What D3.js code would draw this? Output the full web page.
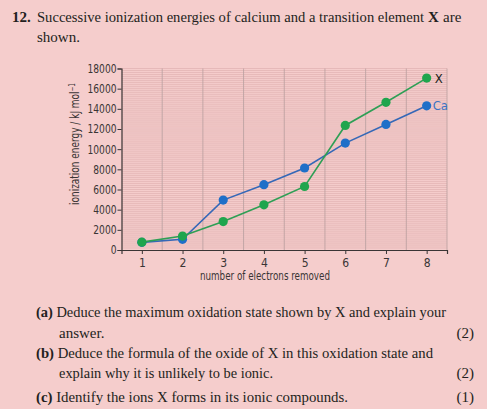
<!DOCTYPE html>
<html>
<head>
<meta charset="utf-8">
<script src="https://cdn.jsdelivr.net/npm/d3@7"></script>
<style>
  body { margin:0; background:#f5cdcc; }
  svg { display:block; }
</style>
</head>
<body>
<div id="chart"></div>
<script>
// data
var electrons = [1, 2, 3, 4, 5, 6, 7, 8];
var caEnergy = [760, 1060, 4950, 6480, 8130, 10600, 12450, 14300];
var xEnergy = [780, 1380, 2820, 4480, 6300, 12350, 14650, 17050];
var yTicks = [0, 2000, 4000, 6000, 8000, 10000, 12000, 14000, 16000, 18000];

var questionLines = [
  {x:36, y:312, parts:[["(a)",true],[" Deduce the maximum oxidation state shown by X and explain your",false]], len:410},
  {x:59, y:333, parts:[["answer.",false]], mark:"(2)"},
  {x:36, y:353, parts:[["(b)",true],[" Deduce the formula of the oxide of X in this oxidation state and",false]], len:397},
  {x:59, y:373, parts:[["explain why it is unlikely to be ionic.",false]], mark:"(2)", len:214},
  {x:36, y:397, parts:[["(c)",true],[" Identify the ions X forms in its ionic compounds.",false]], mark:"(1)", len:312}
];

(function(){
var W = 487, H = 409;
var serif = "'Liberation Serif', 'DejaVu Serif', serif";
var sans = "'Liberation Sans Narrow', 'DejaVu Sans Condensed', 'Liberation Sans', sans-serif";
var ink = "#3a3535";

var svg = d3.select("#chart").append("svg")
  .attr("width", W).attr("height", H);

svg.append("rect").attr("width", W).attr("height", H).attr("fill", "#f5cdcc");

// heading
var head = svg.append("g").style("font-family", serif).style("font-size", "15px").attr("fill", "#231f20");
head.append("text").attr("x", 12).attr("y", 22).style("font-weight", "bold").text("12.");
head.append("text").attr("x", 37).attr("y", 22)
  .attr("textLength", 387).attr("lengthAdjust", "spacingAndGlyphs")
  .style("font-size", "14.5px")
  .text("Successive ionization energies of calcium and a transition element");
head.append("text").attr("x", 428).attr("y", 22).style("font-weight", "bold").text("X");
head.append("text").attr("x", 443).attr("y", 22).text("are");
head.append("text").attr("x", 37).attr("y", 42).text("shown.");

// plot area
var pLeft = 121.5, pRight = 447, pTop = 68.5, pBottom = 250;
var x = d3.scaleLinear().domain([0.5, 8.5]).range([pLeft, pRight]);
var y = d3.scaleLinear().domain([0, 18000]).range([pBottom, pTop]);

var grid = svg.append("g");
grid.selectAll("line.h").data(d3.range(200, 18001, 200)).enter().append("line")
  .attr("class", "h")
  .attr("x1", pLeft).attr("x2", pRight)
  .attr("y1", function(d){ return y(d); })
  .attr("y2", function(d){ return y(d); })
  .attr("stroke", "#dba9a9")
  .attr("stroke-width", 0.55);
grid.selectAll("line.v").data(d3.range(1.5, 8.6, 1)).enter().append("line")
  .attr("class", "v")
  .attr("x1", function(d){ return x(d); }).attr("x2", function(d){ return x(d); })
  .attr("y1", pTop).attr("y2", pBottom)
  .attr("stroke", "#b89e9e").attr("stroke-width", 0.8);

// axes
var yAxis = svg.append("g").attr("transform", "translate(" + pLeft + ",0)")
  .call(d3.axisLeft(y).tickValues(yTicks).tickSize(4).tickPadding(1).tickFormat(d3.format("d")));
var xAxis = svg.append("g").attr("transform", "translate(0," + pBottom + ")")
  .call(d3.axisBottom(x).tickValues(electrons).tickSize(4).tickPadding(4).tickFormat(d3.format("d")));
[yAxis, xAxis].forEach(function(a){
  a.select(".domain").attr("stroke", ink).attr("stroke-width", 1.2);
  a.selectAll(".tick line").attr("stroke", ink);
  a.selectAll("text").style("font-family", sans).style("font-size", "12px").attr("fill", ink);
});
yAxis.selectAll("text").attr("textLength", function(d){ return String(d).length * 5.8; })
  .attr("lengthAdjust", "spacingAndGlyphs");

svg.append("text")
  .attr("transform", "translate(79,144) rotate(-90)")
  .attr("text-anchor", "middle")
  .attr("textLength", 122).attr("lengthAdjust", "spacingAndGlyphs")
  .style("font-family", sans).style("font-size", "12.5px").attr("fill", ink)
  .text("ionization energy / kJ mol")
  .append("tspan").attr("dy", -4.5).style("font-size", "8px").text("\u22121");

svg.append("text")
  .attr("x", 265).attr("y", 280)
  .attr("text-anchor", "middle")
  .attr("textLength", 130).attr("lengthAdjust", "spacingAndGlyphs")
  .style("font-family", sans).style("font-size", "12px").attr("fill", ink)
  .text("number of electrons removed");

// series
var series = [
  {name:"Ca", values:caEnergy, line:"#3568b7", dot:"#1f6fc8", label:"#3d74c3", dx:6},
  {name:"X", values:xEnergy, line:"#2e9f55", dot:"#1fa54d", label:"#231f20", dx:8}
];
var line = d3.line()
  .x(function(d, i){ return x(electrons[i]); })
  .y(function(d){ return y(d); });

series.forEach(function(s){
  var g = svg.append("g");
  g.append("path").attr("d", line(s.values))
    .attr("fill", "none").attr("stroke", s.line).attr("stroke-width", 1.6);
  g.selectAll("circle").data(s.values).enter().append("circle")
    .attr("cx", function(d, i){ return x(electrons[i]); })
    .attr("cy", function(d){ return y(d); })
    .attr("r", 4.6).attr("fill", s.dot);
  var last = s.values.length - 1;
  g.append("text")
    .attr("x", x(electrons[last]) + s.dx).attr("y", y(s.values[last]) + 4.5)
    .style("font-family", sans).style("font-size", "13px").attr("fill", s.label)
    .text(s.name);
});

// questions
var q = svg.append("g").style("font-family", serif).style("font-size", "15px").attr("fill", "#231f20");
questionLines.forEach(function(l){
  var t = q.append("text").attr("x", l.x).attr("y", l.y + 5);
  if (l.len) t.attr("textLength", l.len).attr("lengthAdjust", "spacingAndGlyphs");
  l.parts.forEach(function(p){
    t.append("tspan").style("font-weight", p[1] ? "bold" : "normal").text(p[0]);
  });
  if (l.mark) q.append("text").attr("x", 474).attr("y", l.y + 5).attr("text-anchor", "end").text(l.mark);
});
})();
</script>
</body>
</html>
